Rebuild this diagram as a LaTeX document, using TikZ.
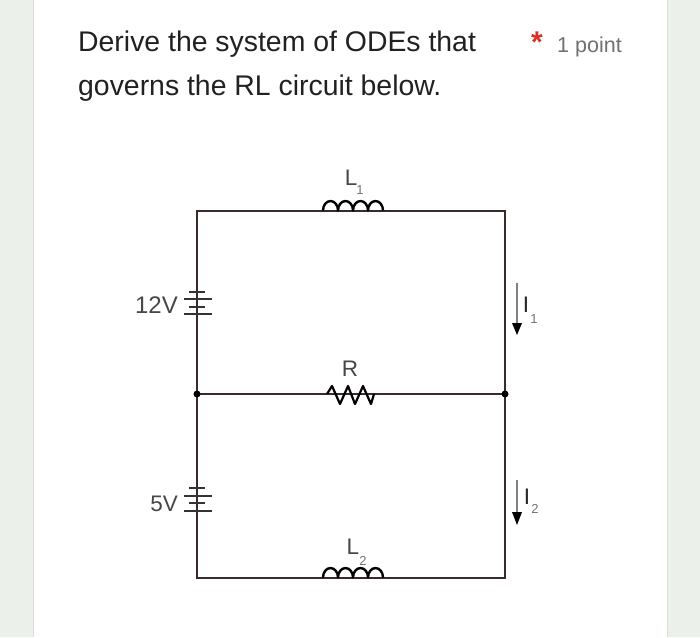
\documentclass[tikz,border=0pt]{standalone}
\usepackage{fontspec}
\setmainfont{Liberation Sans}
\definecolor{pagebg}{HTML}{EBF0EA}
\definecolor{cardedge}{HTML}{DCDED8}
\definecolor{heading}{HTML}{212121}
\definecolor{muted}{HTML}{6F7173}
\definecolor{wire}{HTML}{3A2A2A}
\definecolor{starred}{HTML}{D93025}
\tikzset{
  wirepath/.style={draw=wire,line width=2pt},
  compline/.style={draw=black!80,line width=2.2pt},
  title/.style={anchor=base west,inner sep=0pt,text=heading,font=\fontsize{28.4}{28}\selectfont},
  clabel/.style={inner sep=0pt,text=black!72,font=\fontsize{22.5}{22}\selectfont},
  csub/.style={inner sep=0pt,text=black!55,font=\fontsize{13}{13}\selectfont},
  ccurrent/.style={draw=black!50,line width=1.7pt},
  chead/.style={fill=black,draw=none},
}
\begin{document}
\begin{tikzpicture}[x=1pt,y=-1pt]
\useasboundingbox (0,0) rectangle (700,637);
\fill[pagebg] (0,0) rectangle (700,637);
\fill[white] (33,0) rectangle (667,637);
\draw[cardedge,line width=1pt] (33,0) -- (33,637) (667,0) -- (667,637);
% question text
\node[title] (q1) at (78,51) {Derive the system of ODEs that};
\node[title] (q2) at (78,95) {governs the RL circuit below.};
\node[inner sep=0pt,text=starred,font=\bfseries\fontsize{30}{30}\selectfont] (star) at (537,42) {*};
\node[anchor=base west,inner sep=0pt,text=muted,font=\fontsize{21.5}{22}\selectfont] (pts) at (557,52) {1 point};
% junctions and corners
\coordinate (tl) at (197,211);
\coordinate (tr) at (505,211);
\coordinate (ml) at (197,394);
\coordinate (mr) at (505,394);
\coordinate (bl) at (197,578);
\coordinate (br) at (505,578);
% wires
\draw[wirepath,line join=miter] (ml) -- (tl) -- (tr) -- (mr) -- (br) -- (bl) -- cycle;
\draw[wirepath] (ml) -- (mr);
\fill[black] (ml) circle (3.5) (mr) circle (3.5);
% batteries
\draw[compline]
  (189,292) -- (205,292) (184,299) -- (212,299)
  (189,307) -- (205,307) (184,314) -- (212,314);
\draw[compline]
  (189,488) -- (205,488) (184,496) -- (212,496)
  (189,503) -- (205,503) (184,511) -- (212,511);
\node[clabel,anchor=east,font=\fontsize{24}{24}\selectfont] (v12) at (178,305) {12V};
\node[clabel,anchor=east] (v5) at (178,504) {5V};
% inductors
\foreach \yy in {210.5,577.5}{
  \draw[draw=black,line width=2.4pt,line join=round]
    (323,\yy) arc[start angle=180,end angle=360,x radius=7.5,y radius=9.5]
    arc[start angle=180,end angle=360,x radius=7.5,y radius=9.5]
    arc[start angle=180,end angle=360,x radius=7.5,y radius=9.5]
    arc[start angle=180,end angle=360,x radius=7.5,y radius=9.5];
}
\node[clabel] (l1) at (351,178) {L};
\node[csub] (l1s) at (360,190) {1};
\node[clabel] (l2) at (353,547) {L};
\node[csub] (l2s) at (363,561) {2};
% resistor
\node[clabel] (r) at (350,369) {R};
\draw[draw=black,line width=2.2pt,line join=round]
  (327,394) -- (332,386) -- (340,404) -- (348,386) -- (355,404) -- (363,386) -- (371,404) -- (374,394);
% currents
\draw[ccurrent] (517,283) -- (517,326);
\fill[chead] (512,323) -- (522,323) -- (517,335) -- cycle;
\draw[ccurrent] (517,480) -- (517,516);
\fill[chead] (512,512) -- (522,512) -- (517,525) -- cycle;
\node[clabel,text=black!85] (i1) at (526,305) {I};
\node[csub] (i1s) at (534,319) {1};
\node[clabel,text=black!85] (i2) at (527,497) {I};
\node[csub] (i2s) at (535,509) {2};
\end{tikzpicture}
\end{document}
